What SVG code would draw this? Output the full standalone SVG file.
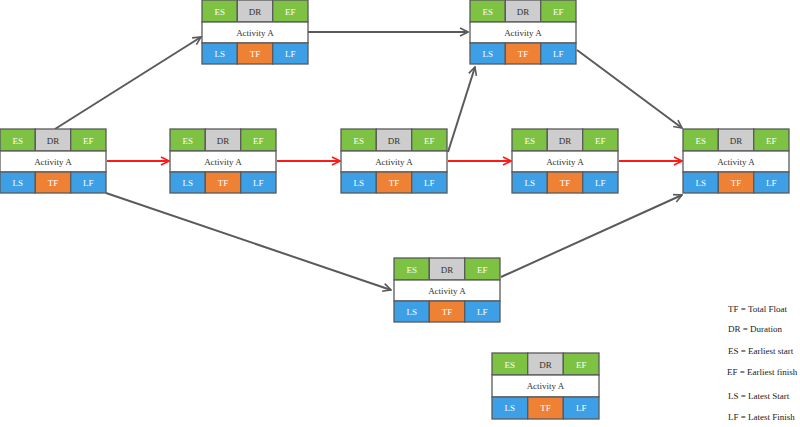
<svg xmlns="http://www.w3.org/2000/svg" width="800" height="427" viewBox="0 0 800 427">
<defs>
<style>
.g{fill:#7dc242}.d{fill:#cdcdcd}.b{fill:#3d9fe6}.o{fill:#ee8133}.w{fill:#fff}
rect{stroke:#5a5a5a;stroke-width:1.3}
text{font-family:"Liberation Serif","Times New Roman",serif;font-size:9px;text-anchor:middle}
.t{fill:#fff}.k{fill:#333}
.lg{text-anchor:start;fill:#222;font-size:9px}
.c{fill:none;stroke:#5a5a5a;stroke-width:2}
.r{fill:none;stroke:#ff1a1a;stroke-width:2}
</style>
<marker id="ag" viewBox="0 0 10 10" refX="9" refY="5" markerWidth="5" markerHeight="5" orient="auto" markerUnits="strokeWidth"><path d="M1,1 L9,5 L1,9" fill="none" stroke="#5a5a5a" stroke-width="1.6"/></marker>
<marker id="ar" viewBox="0 0 10 10" refX="9" refY="5" markerWidth="5" markerHeight="5" orient="auto" markerUnits="strokeWidth"><path d="M1,1 L9,5 L1,9" fill="none" stroke="#ff1a1a" stroke-width="1.6"/></marker>
</defs>
<g id="connectors">
<path class="c" d="M55,129 L201,37" marker-end="url(#ag)"/>
<path class="c" d="M308,32 L468,32" marker-end="url(#ag)"/>
<path class="c" d="M448,152 L475,67" marker-end="url(#ag)"/>
<path class="c" d="M577,50 L682,128" marker-end="url(#ag)"/>
<path class="c" d="M106,193 L391,290" marker-end="url(#ag)"/>
<path class="c" d="M501,277 L682,195" marker-end="url(#ag)"/>
<path class="r" d="M107,161 L169,161" marker-end="url(#ar)"/>
<path class="r" d="M277,161 L340,161" marker-end="url(#ar)"/>
<path class="r" d="M448,161 L511,161" marker-end="url(#ar)"/>
<path class="r" d="M619,161 L682,161" marker-end="url(#ar)"/>
</g>
<g id="n1" transform="translate(0,129)">
<rect class="g" x="0" y="0" width="35.3" height="22"/><rect class="d" x="35.3" y="0" width="35.4" height="22"/><rect class="g" x="70.7" y="0" width="35.3" height="22"/>
<rect class="w" x="0" y="22" width="106" height="21"/>
<rect class="b" x="0" y="43" width="35.3" height="21"/><rect class="o" x="35.3" y="43" width="35.4" height="21"/><rect class="b" x="70.7" y="43" width="35.3" height="21"/>
<text class="t" x="17.7" y="14.5">ES</text><text class="k" x="53" y="14.5">DR</text><text class="t" x="88.3" y="14.5">EF</text>
<text class="k" x="53" y="35.5">Activity A</text>
<text class="t" x="17.7" y="56.5">LS</text><text class="t" x="53" y="56.5">TF</text><text class="t" x="88.3" y="56.5">LF</text>
</g>
<g id="n2" transform="translate(202,0)">
<rect class="g" x="0" y="0" width="35.3" height="22"/><rect class="d" x="35.3" y="0" width="35.4" height="22"/><rect class="g" x="70.7" y="0" width="35.3" height="22"/>
<rect class="w" x="0" y="22" width="106" height="21"/>
<rect class="b" x="0" y="43" width="35.3" height="21"/><rect class="o" x="35.3" y="43" width="35.4" height="21"/><rect class="b" x="70.7" y="43" width="35.3" height="21"/>
<text class="t" x="17.7" y="14.5">ES</text><text class="k" x="53" y="14.5">DR</text><text class="t" x="88.3" y="14.5">EF</text>
<text class="k" x="53" y="35.5">Activity A</text>
<text class="t" x="17.7" y="56.5">LS</text><text class="t" x="53" y="56.5">TF</text><text class="t" x="88.3" y="56.5">LF</text>
</g>
<g id="n3" transform="translate(470,0)">
<rect class="g" x="0" y="0" width="35.3" height="22"/><rect class="d" x="35.3" y="0" width="35.4" height="22"/><rect class="g" x="70.7" y="0" width="35.3" height="22"/>
<rect class="w" x="0" y="22" width="106" height="21"/>
<rect class="b" x="0" y="43" width="35.3" height="21"/><rect class="o" x="35.3" y="43" width="35.4" height="21"/><rect class="b" x="70.7" y="43" width="35.3" height="21"/>
<text class="t" x="17.7" y="14.5">ES</text><text class="k" x="53" y="14.5">DR</text><text class="t" x="88.3" y="14.5">EF</text>
<text class="k" x="53" y="35.5">Activity A</text>
<text class="t" x="17.7" y="56.5">LS</text><text class="t" x="53" y="56.5">TF</text><text class="t" x="88.3" y="56.5">LF</text>
</g>
<g id="n4" transform="translate(170,129)">
<rect class="g" x="0" y="0" width="35.3" height="22"/><rect class="d" x="35.3" y="0" width="35.4" height="22"/><rect class="g" x="70.7" y="0" width="35.3" height="22"/>
<rect class="w" x="0" y="22" width="106" height="21"/>
<rect class="b" x="0" y="43" width="35.3" height="21"/><rect class="o" x="35.3" y="43" width="35.4" height="21"/><rect class="b" x="70.7" y="43" width="35.3" height="21"/>
<text class="t" x="17.7" y="14.5">ES</text><text class="k" x="53" y="14.5">DR</text><text class="t" x="88.3" y="14.5">EF</text>
<text class="k" x="53" y="35.5">Activity A</text>
<text class="t" x="17.7" y="56.5">LS</text><text class="t" x="53" y="56.5">TF</text><text class="t" x="88.3" y="56.5">LF</text>
</g>
<g id="n5" transform="translate(341,129)">
<rect class="g" x="0" y="0" width="35.3" height="22"/><rect class="d" x="35.3" y="0" width="35.4" height="22"/><rect class="g" x="70.7" y="0" width="35.3" height="22"/>
<rect class="w" x="0" y="22" width="106" height="21"/>
<rect class="b" x="0" y="43" width="35.3" height="21"/><rect class="o" x="35.3" y="43" width="35.4" height="21"/><rect class="b" x="70.7" y="43" width="35.3" height="21"/>
<text class="t" x="17.7" y="14.5">ES</text><text class="k" x="53" y="14.5">DR</text><text class="t" x="88.3" y="14.5">EF</text>
<text class="k" x="53" y="35.5">Activity A</text>
<text class="t" x="17.7" y="56.5">LS</text><text class="t" x="53" y="56.5">TF</text><text class="t" x="88.3" y="56.5">LF</text>
</g>
<g id="n6" transform="translate(512,129)">
<rect class="g" x="0" y="0" width="35.3" height="22"/><rect class="d" x="35.3" y="0" width="35.4" height="22"/><rect class="g" x="70.7" y="0" width="35.3" height="22"/>
<rect class="w" x="0" y="22" width="106" height="21"/>
<rect class="b" x="0" y="43" width="35.3" height="21"/><rect class="o" x="35.3" y="43" width="35.4" height="21"/><rect class="b" x="70.7" y="43" width="35.3" height="21"/>
<text class="t" x="17.7" y="14.5">ES</text><text class="k" x="53" y="14.5">DR</text><text class="t" x="88.3" y="14.5">EF</text>
<text class="k" x="53" y="35.5">Activity A</text>
<text class="t" x="17.7" y="56.5">LS</text><text class="t" x="53" y="56.5">TF</text><text class="t" x="88.3" y="56.5">LF</text>
</g>
<g id="n7" transform="translate(683,129)">
<rect class="g" x="0" y="0" width="35.3" height="22"/><rect class="d" x="35.3" y="0" width="35.4" height="22"/><rect class="g" x="70.7" y="0" width="35.3" height="22"/>
<rect class="w" x="0" y="22" width="106" height="21"/>
<rect class="b" x="0" y="43" width="35.3" height="21"/><rect class="o" x="35.3" y="43" width="35.4" height="21"/><rect class="b" x="70.7" y="43" width="35.3" height="21"/>
<text class="t" x="17.7" y="14.5">ES</text><text class="k" x="53" y="14.5">DR</text><text class="t" x="88.3" y="14.5">EF</text>
<text class="k" x="53" y="35.5">Activity A</text>
<text class="t" x="17.7" y="56.5">LS</text><text class="t" x="53" y="56.5">TF</text><text class="t" x="88.3" y="56.5">LF</text>
</g>
<g id="n8" transform="translate(394,258)">
<rect class="g" x="0" y="0" width="35.3" height="22"/><rect class="d" x="35.3" y="0" width="35.4" height="22"/><rect class="g" x="70.7" y="0" width="35.3" height="22"/>
<rect class="w" x="0" y="22" width="106" height="21"/>
<rect class="b" x="0" y="43" width="35.3" height="21"/><rect class="o" x="35.3" y="43" width="35.4" height="21"/><rect class="b" x="70.7" y="43" width="35.3" height="21"/>
<text class="t" x="17.7" y="14.5">ES</text><text class="k" x="53" y="14.5">DR</text><text class="t" x="88.3" y="14.5">EF</text>
<text class="k" x="53" y="35.5">Activity A</text>
<text class="t" x="17.7" y="56.5">LS</text><text class="t" x="53" y="56.5">TF</text><text class="t" x="88.3" y="56.5">LF</text>
</g>
<g id="legend-node" transform="translate(492,353)">
<rect class="g" x="0" y="0" width="35.7" height="22"/><rect class="d" x="35.7" y="0" width="35.6" height="22"/><rect class="g" x="71.3" y="0" width="35.7" height="22"/>
<rect class="w" x="0" y="22" width="107" height="22"/>
<rect class="b" x="0" y="44" width="35.7" height="22"/><rect class="o" x="35.7" y="44" width="35.6" height="22"/><rect class="b" x="71.3" y="44" width="35.7" height="22"/>
<text class="t" x="17.8" y="14.5">ES</text><text class="k" x="53.5" y="14.5">DR</text><text class="t" x="89.2" y="14.5">EF</text>
<text class="k" x="53.5" y="36">Activity A</text>
<text class="t" x="17.8" y="58">LS</text><text class="t" x="53.5" y="58">TF</text><text class="t" x="89.2" y="58">LF</text>
</g>
<g id="legend">
<text class="lg" x="728" y="312">TF = Total Float</text>
<text class="lg" x="728" y="332">DR = Duration</text>
<text class="lg" x="728" y="354">ES = Earliest start</text>
<text class="lg" x="727" y="375">EF = Earliest finish</text>
<text class="lg" x="728" y="399">LS = Latest Start</text>
<text class="lg" x="728" y="420">LF = Latest Finish</text>
</g>
</svg>
